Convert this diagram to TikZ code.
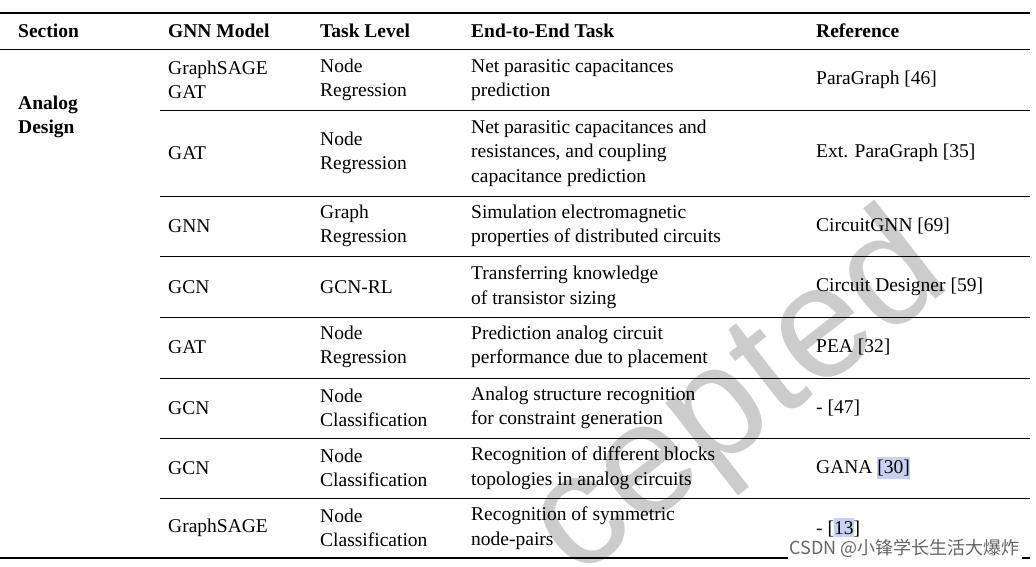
\documentclass[tikz,border=0pt]{standalone}
\usepackage{fontspec}
\setmainfont{Liberation Serif}
\newfontfamily\cjk{Noto Sans CJK SC}
\newfontfamily\wmfont{Liberation Sans}
\definecolor{hl}{RGB}{200,210,240}
\begin{document}
\begin{tikzpicture}[x=1pt,y=-1pt,
  cell/.style={anchor=west,align=left,font=\fontsize{19.5}{24.5}\selectfont,inner sep=0pt},
  hd/.style={cell,font=\fontsize{19.5}{24.5}\selectfont\bfseries}]
\useasboundingbox (0,0) rectangle (1036,567);
\fill[white] (0,0) rectangle (1036,567);
% watermark
\node[text=black!20,font=\wmfont\fontsize{160}{160}\selectfont,rotate=38,inner sep=0pt] (wm) at (740,400) {cepted};
% rules
\draw[line width=1.3pt] (0,13) -- (1030,13);
\draw[line width=0.7pt] (0,49) -- (1030,49);
\foreach \y in {110,196,256,317,378,438,498} \draw[line width=0.5pt] (160,\y) -- (1030,\y);
\draw[line width=1.3pt] (0,558) -- (1030,558);
% header
\node[hd] (h1) at (18,31) {Section};
\node[hd] (h2) at (168,31) {GNN Model};
\node[hd] (h3) at (320,31) {Task Level};
\node[hd] (h4) at (471,31) {End-to-End Task};
\node[hd] (h5) at (816,31) {Reference};
\node[hd] (sec) at (18,117) {Analog\\Design};
% rows
\node[cell] (a1) at (168,80) {GraphSAGE\\GAT};
\node[cell] (b1) at (320,80) {Node\\Regression};
\node[cell] (c1) at (471,80) {Net parasitic capacitances\\prediction};
\node[cell] (d1) at (816,80) {ParaGraph [46]};
\node[cell] (a2) at (168,153) {GAT};
\node[cell] (b2) at (320,153) {Node\\Regression};
\node[cell] (c2) at (471,153) {Net parasitic capacitances and\\resistances, and coupling\\capacitance prediction};
\node[cell] (d2) at (816,153) {Ext. ParaGraph [35]};
\node[cell] (a3) at (168,226) {GNN};
\node[cell] (b3) at (320,226) {Graph\\Regression};
\node[cell] (c3) at (471,226) {Simulation electromagnetic\\properties of distributed circuits};
\node[cell] (d3) at (816,226) {CircuitGNN [69]};
\node[cell] (a4) at (168,287) {GCN};
\node[cell] (b4) at (320,287) {GCN-RL};
\node[cell] (c4) at (471,287) {Transferring knowledge\\of transistor sizing};
\node[cell] (d4) at (816,287) {Circuit Designer [59]};
\node[cell] (a5) at (168,347) {GAT};
\node[cell] (b5) at (320,347) {Node\\Regression};
\node[cell] (c5) at (471,347) {Prediction analog circuit\\performance due to placement};
\node[cell] (d5) at (816,347) {PEA [32]};
\node[cell] (a6) at (168,408) {GCN};
\node[cell] (b6) at (320,408) {Node\\Classification};
\node[cell] (c6) at (471,408) {Analog structure recognition\\for constraint generation};
\node[cell] (d6) at (816,408) {- [47]};
\node[cell] (a7) at (168,468) {GCN};
\node[cell] (b7) at (320,468) {Node\\Classification};
\node[cell] (c7) at (471,468) {Recognition of different blocks\\topologies in analog circuits};
\node[cell] (d7) at (816,468) {GANA \colorbox{hl}{\kern-3pt[30]\kern-3pt}};
\node[cell] (a8) at (168,528) {GraphSAGE};
\node[cell] (b8) at (320,528) {Node\\Classification};
\node[cell] (c8) at (471,528) {Recognition of symmetric\\node-pairs};
\node[cell] (d8) at (816,528) {- [\colorbox{hl}{\kern-3pt13\kern-3pt}]};
\node[anchor=east,fill=white,inner sep=2pt,text=black!60,font=\cjk\fontsize{18}{18}\selectfont] (csdn) at (1022,548) {CSDN @小锋学长生活大爆炸};
\end{tikzpicture}
\end{document}
